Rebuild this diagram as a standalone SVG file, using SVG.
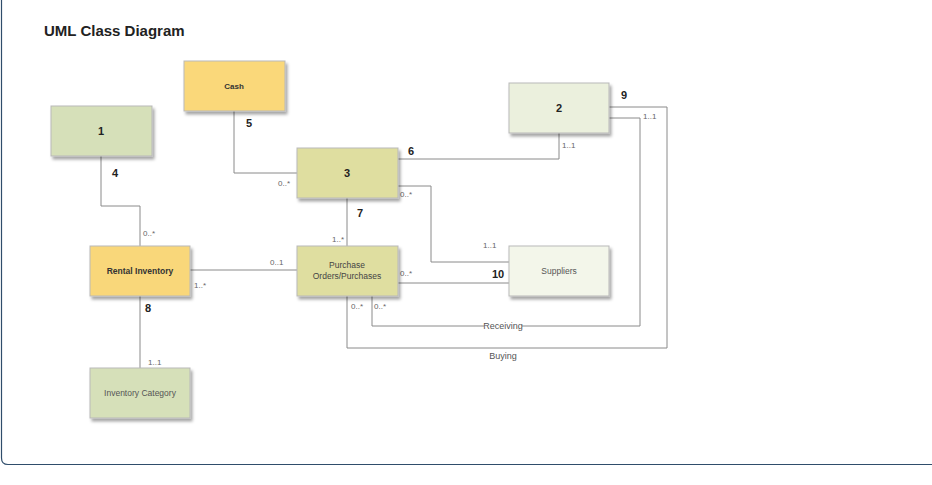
<svg xmlns="http://www.w3.org/2000/svg" width="932" height="485" viewBox="0 0 932 485">
<style>
.n{stroke:#b9b9b9;stroke-width:1;filter:url(#sh)}
.c{fill:none;stroke:#8a8a8a;stroke-width:1}
text{font-family:"Liberation Sans",Arial,sans-serif}
.m{font-size:8px;fill:#666}
.b{font-size:11px;font-weight:bold;fill:#222}
.l{font-size:9px;fill:#555;text-anchor:middle}
</style>
<defs><filter id="sh" x="-10%" y="-10%" width="130%" height="140%"><feDropShadow dx="2" dy="3" stdDeviation="1.5" flood-color="#000" flood-opacity="0.35"/></filter></defs>
<rect width="932" height="485" fill="#fff"/>
<path d="M1.5,0 V458 Q1.5,464.5 8,464.5 H932" fill="none" stroke="#2f4d6b" stroke-width="1.2"/>
<text x="44" y="36" style="font-size:15px;font-weight:bold;fill:#222">UML Class Diagram</text>
<g id="connectors">
<path class="c" d="M234,111 V173 H297"/>
<path class="c" d="M101,156 V206 H140 V246"/>
<path class="c" d="M398,159 H559 V133"/>
<path class="c" d="M398,186 H431 V262 H509"/>
<path class="c" d="M347,198 V246"/>
<path class="c" d="M190,270 H297"/>
<path class="c" d="M398,283 H509"/>
<path class="c" d="M140,296 V368"/>
<path class="c" d="M372,296 V326 H484 M522,326 H640 V118 H609"/>
<path class="c" d="M347,296 V348 H667 V107 H609"/>
<text class="b" x="246" y="127">5</text>
<text class="m" x="278" y="186">0..*</text>
<text class="b" x="112" y="177">4</text>
<text class="m" x="143" y="236">0..*</text>
<text class="b" x="408" y="155">6</text>
<text class="m" x="562" y="148">1..1</text>
<text class="m" x="400" y="197">0..*</text>
<text class="m" x="483" y="248">1..1</text>
<text class="b" x="357" y="217">7</text>
<text class="m" x="332" y="242">1..*</text>
<text class="m" x="270" y="265">0..1</text>
<text class="m" x="194" y="288">1..*</text>
<text class="m" x="400" y="276">0..*</text>
<text class="b" x="492" y="278">10</text>
<text class="b" x="145" y="312">8</text>
<text class="m" x="148" y="365">1..1</text>
<text class="m" x="351" y="309">0..*</text>
<text class="m" x="374" y="309">0..*</text>
<text class="l" x="503" y="329">Receiving</text>
<text class="l" x="503" y="359">Buying</text>
<text class="b" x="621" y="99">9</text>
<text class="m" x="643" y="119">1..1</text>
</g>
<g id="cash"><rect class="n" x="184" y="61" width="101" height="50" fill="#fad87a"/><text x="234" y="89" text-anchor="middle" style="font-size:8px;font-weight:bold;fill:#333">Cash</text></g>
<g id="n1"><rect class="n" x="51" y="106" width="101" height="50" fill="#d6e0b9"/><text x="101" y="135" text-anchor="middle" class="b">1</text></g>
<g id="n2"><rect class="n" x="509" y="83" width="100" height="50" fill="#ebf0dd"/><text x="559" y="112" text-anchor="middle" class="b">2</text></g>
<g id="n3"><rect class="n" x="297" y="148" width="101" height="50" fill="#dfdea0"/><text x="347" y="177" text-anchor="middle" class="b">3</text></g>
<g id="rental"><rect class="n" x="90" y="246" width="100" height="50" fill="#f9d77a"/><text x="140" y="274" text-anchor="middle" style="font-size:8.5px;font-weight:bold;fill:#333">Rental Inventory</text></g>
<g id="purchase"><rect class="n" x="297" y="246" width="101" height="50" fill="#dfdea0"/><text x="347" y="268" text-anchor="middle" style="font-size:8.5px;fill:#444">Purchase</text><text x="347" y="279" text-anchor="middle" style="font-size:8.5px;fill:#444">Orders/Purchases</text></g>
<g id="suppliers"><rect class="n" x="509" y="246" width="100" height="50" fill="#f3f6ea"/><text x="559" y="274" text-anchor="middle" style="font-size:8.5px;fill:#555">Suppliers</text></g>
<g id="category"><rect class="n" x="90" y="368" width="100" height="50" fill="#d6e0b9"/><text x="140" y="396" text-anchor="middle" style="font-size:8.5px;fill:#555">Inventory Category</text></g>
</svg>
